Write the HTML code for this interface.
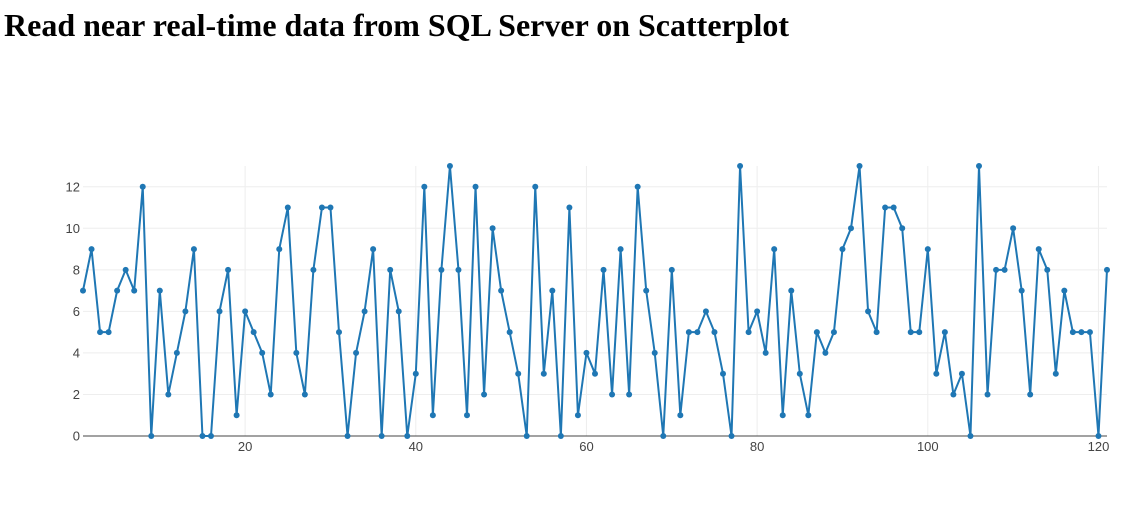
<!DOCTYPE html>
<html><head><meta charset="utf-8"><style>
body{margin:0;background:#fff;width:1147px;height:509px;overflow:hidden}
h1{position:absolute;left:4px;top:7px;margin:0;font-family:"Liberation Serif",serif;font-weight:bold;font-size:32px;color:#000}
svg{position:absolute;left:0;top:0}
text{font-family:"Liberation Sans",sans-serif;font-size:13px;fill:#444}
</style></head><body>
<h1>Read near real-time data from SQL Server on Scatterplot</h1>
<svg id="c" width="1147" height="509"></svg>
<script>
const xTicks=[20,40,60,80,100,120];
const yTicks=[0,2,4,6,8,10,12];
const yValues=[7,9,5,5,7,8,7,12,0,7,2,4,6,9,0,0,6,8,1,6,5,4,2,9,11,4,2,8,11,11,5,0,4,6,9,0,8,6,0,3,12,1,8,13,8,1,12,2,10,7,5,3,0,12,3,7,0,11,1,4,3,8,2,9,2,12,7,4,0,8,1,5,5,6,5,3,0,13,5,6,4,9,1,7,3,1,5,4,5,9,10,13,6,5,11,11,10,5,5,9,3,5,2,3,0,13,2,8,8,10,7,2,9,8,3,7,5,5,5,0,8];
const xValues=yValues.map((_,i)=>i+1);
const L=83,R=1107,T=166,B=436,xMin=1,xMax=121,yMax=13;
const sx=v=>L+(v-xMin)/(xMax-xMin)*(R-L);
const sy=v=>B-v/yMax*(B-T);
const svg=document.getElementById('c');const NS='http://www.w3.org/2000/svg';
function mk(t,a){const e=document.createElementNS(NS,t);for(const k in a)e.setAttribute(k,a[k]);svg.appendChild(e);return e;}
yTicks.forEach(v=>{if(v>0){const g=mk('line',{x1:L,x2:R,y1:sy(v),y2:sy(v),stroke:'#eee'});

}
const t=mk('text',{x:L-3,y:sy(v)+4.5,'text-anchor':'end'});t.textContent=v;

});
xTicks.forEach(v=>{const g=mk('line',{x1:sx(v),x2:sx(v),y1:T,y2:B,stroke:'#eee'});


const t=mk('text',{x:sx(v),y:B+15,'text-anchor':'middle'});t.textContent=v;

});
const z=mk('line',{x1:L,x2:R,y1:B,y2:B,stroke:'#444','stroke-width':1});


const p=mk('polyline',{points:yValues.map((v,i)=>sx(xValues[i])+','+sy(v)).join(' '),fill:'none',stroke:'#1f77b4','stroke-width':2,'stroke-linejoin':'round'});


yValues.forEach((v,i)=>{const c=mk('circle',{cx:sx(xValues[i]),cy:sy(v),r:3,fill:'#1f77b4'});

});
</script>
</body></html>
